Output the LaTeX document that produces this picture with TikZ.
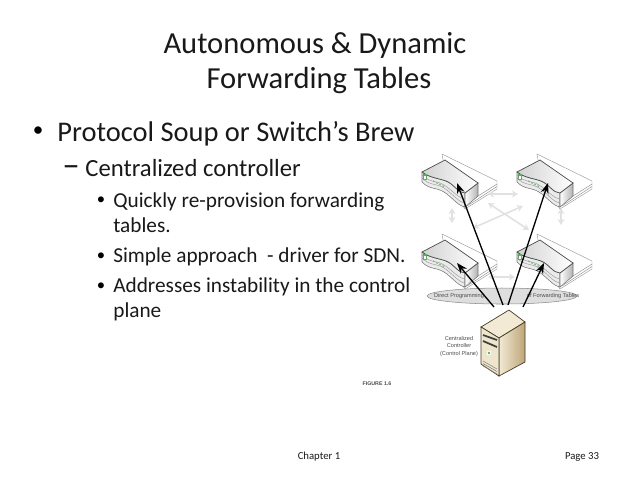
\documentclass[tikz,border=0pt]{standalone}
\usepackage{fontspec}
\setmainfont{Carlito}
\newfontfamily\figfont{Liberation Sans}
\usetikzlibrary{arrows.meta, positioning, calc}
\definecolor{slidetext}{RGB}{25,25,25}
\definecolor{linkgrey}{RGB}{225,225,225}
\definecolor{ovalgrey}{RGB}{222,222,222}
\definecolor{servertop}{RGB}{242,234,212}
\definecolor{serverfront}{RGB}{238,229,205}
\definecolor{serverside}{RGB}{190,165,120}
\definecolor{serveredge}{RGB}{70,60,40}
\definecolor{ledgreen}{RGB}{95,170,95}
\tikzset{
    titletext/.style={font=\fontsize{17.4}{20}\selectfont, text=slidetext, inner sep=0pt, anchor=base},
    levelone/.style={font=\fontsize{16.2}{19}\selectfont, text=slidetext, anchor=base west, inner sep=0pt},
    leveltwo/.style={font=\fontsize{14.05}{16}\selectfont, text=slidetext, anchor=base west, inner sep=0pt},
    levelthree/.style={font=\fontsize{12.1}{14}\selectfont, text=slidetext, anchor=base west, inner sep=0pt},
    bigdot/.style={font=\fontsize{12}{14}\selectfont, text=black, inner sep=0pt},
    smalldot/.style={font=\fontsize{9.5}{12}\selectfont, text=black, inner sep=0pt},
    dashmark/.style={font=\fontsize{20}{22}\selectfont, text=slidetext, inner sep=0pt},
    footer/.style={font=\fontsize{6.1}{8}\selectfont, text=slidetext, inner sep=0pt, anchor=base},
    figlabel/.style={font=\figfont\fontsize{3.2}{4.25}\selectfont, text=black!70, align=center, inner sep=0pt},
    graylink/.style={{Stealth[length=3.5pt,width=4pt]}-{Stealth[length=3.5pt,width=4pt]}, draw=linkgrey, line width=0.9pt},
    ctrlarrow/.style={-{Stealth[length=6pt,width=4.5pt]}, black, line width=0.75pt},
    pics/switchbox/.style={code={
        % paper sheets behind
        \draw[black!40, fill=white, line width=0.25pt] (20,-18) -- (75,9) -- (75,17) -- (43,37) -- (25,10) -- cycle;
        \draw[black!45, line width=0.25pt] (75,12) -- (45,31) (75,14.5) -- (45,34);
        % wavy front
        \draw[black!55, fill=black!8, line width=0.3pt]
            (0,0) -- (0,10) .. controls (8,18) and (14,15) .. (22,20) .. controls (30,25) and (36,34) .. (43,35)
            -- (43,21) .. controls (36,21) and (32,12) .. (24,9) .. controls (16,6) and (8,6) .. cycle;
        \draw[black!40, line width=0.25pt] (0,6) .. controls (8,14) and (14,11) .. (22,16) .. controls (30,21) and (36,30) .. (43,31);
        \draw[black!40, line width=0.25pt] (0,3) .. controls (8,11) and (14,8) .. (22,13) .. controls (30,18) and (36,26) .. (43,27);
        % right side
        \draw[black!55, left color=white, right color=black!30, line width=0.3pt] (43,21) -- (56,11) -- (56,24) -- (43,35) -- cycle;
        % top face
        \draw[black!70, left color=black!18, right color=white, line width=0.4pt]
            (0,0) -- (23,-12) -- (56,11) -- (43,21) .. controls (36,21) and (32,12) .. (24,9) .. controls (16,6) and (8,6) .. cycle;
        \fill[ledgreen] (1,2) rectangle (5,8);
        \fill[white] (2.2,3.5) rectangle (3.8,6.5);
        \draw[ledgreen!80, line width=0.7pt, dash pattern=on 1pt off 1pt] (11,9) -- (23,15);
    }}
}
\begin{document}
\begin{tikzpicture}[x=0.02cm, y=-0.02cm]
    \useasboundingbox (0,0) rectangle (638,478);
    % Title
    \node[titletext] (titlea) at (315,53) {Autonomous \& Dynamic};
    \node[titletext] (titleb) at (319,88) {Forwarding Tables};

    % Bullets
    \node[bigdot] (bulleta) at (38,132) {•};
    \node[levelone] (texta) at (57,141) {Protocol Soup or Switch’s Brew};
    \node[dashmark] (dasha) at (71,171) {–};
    \node[leveltwo] (textb) at (85,176) {Centralized controller};
    \node[smalldot] (dotb) at (101,201) {•};
    \node[levelthree] (textc) at (113,207) {Quickly re-provision forwarding};
    \node[levelthree] (textd) at (113,232) {tables.};
    \node[smalldot] (dotc) at (101,257) {•};
    \node[levelthree] (texte) at (113,262) {Simple approach\ \ - driver for SDN.};
    \node[smalldot] (dotd) at (101,287) {•};
    \node[levelthree] (textf) at (113,292) {Addresses instability in the control};
    \node[levelthree] (textg) at (113,317) {plane};

    % Switches
    \pic at (422,172) {switchbox};
    \pic at (517,172) {switchbox};
    \pic at (422,252) {switchbox};
    \pic at (517,252) {switchbox};

    % Grey links between switches
    \coordinate (hla) at (488,194); \coordinate (hlb) at (518,194);
    \coordinate (vla) at (452,208); \coordinate (vlb) at (452,223);
    \coordinate (vra) at (561,208); \coordinate (vrb) at (561,225);
    \coordinate (dga) at (488,203); \coordinate (dgb) at (529,230);
    \coordinate (dgc) at (523,206); \coordinate (dgd) at (473,228);
    \coordinate (hma) at (488,277); \coordinate (hmb) at (515,277);
    \draw[graylink] (hla) -- (hlb);
    \draw[graylink] (vla) -- (vlb);
    \draw[graylink] (vra) -- (vrb);
    \draw[graylink] (dga) -- (dgb);
    \draw[graylink] (dgc) -- (dgd);
    \draw[graylink] (hma) -- (hmb);

    % Oval
    \fill[ovalgrey, draw=black!45, line width=0.3pt] (502,296) ellipse (75 and 8);
    \node[figlabel] (direct) at (459,296) {Direct Programming};
    \node[figlabel] (tables) at (553,296) {of Forwarding Tables};

    % Server
    \draw[serveredge, fill=servertop, line width=0.4pt] (481,327) -- (509,310) -- (525,322) -- (499,338) -- cycle;
    \draw[serveredge, left color=servertop, right color=serverside, line width=0.4pt] (499,338) -- (525,322) -- (525,362) -- (499,376) -- cycle;
    \draw[serveredge, fill=serverfront, line width=0.4pt] (481,327) -- (499,338) -- (499,376) -- (481,364) -- cycle;
    \draw[black!75, line width=1pt] (483,335) -- (497,340);
    \draw[black!75, line width=1pt] (483,341) -- (497,347);
    \fill[white] (487,351) rectangle (491,355);
    \fill[ledgreen] (489,353) circle (1.3);
    \draw[black!50, line width=0.3pt] (483,361) -- (497,369) (483,363.5) -- (497,371.5) (483,366) -- (497,374);
    \node[figlabel] (ctrllabel) at (459,346.5) {Centralized\\Controller\\(Control Plane)};

    % Controller arrows
    \coordinate (outa) at (503,305); \coordinate (swa) at (457,183);
    \coordinate (outb) at (508,305); \coordinate (swb) at (548,183);
    \coordinate (outc) at (494,307); \coordinate (swc) at (457,263);
    \coordinate (outd) at (523,307); \coordinate (swd) at (544,263);
    \draw[ctrlarrow] (outa) -- (swa);
    \draw[ctrlarrow] (outb) -- (swb);
    \draw[ctrlarrow] (outc) -- (swc);
    \draw[ctrlarrow] (outd) -- (swd);

    \node[font=\figfont\bfseries\fontsize{3}{4}\selectfont, text=black!70, inner sep=0pt] (figname) at (377,384) {FIGURE 1.6};

    % Footer
    \node[footer] (chapter) at (319,459) {Chapter 1};
    \node[footer] (pagenum) at (582,459) {Page 33};
\end{tikzpicture}
\end{document}
